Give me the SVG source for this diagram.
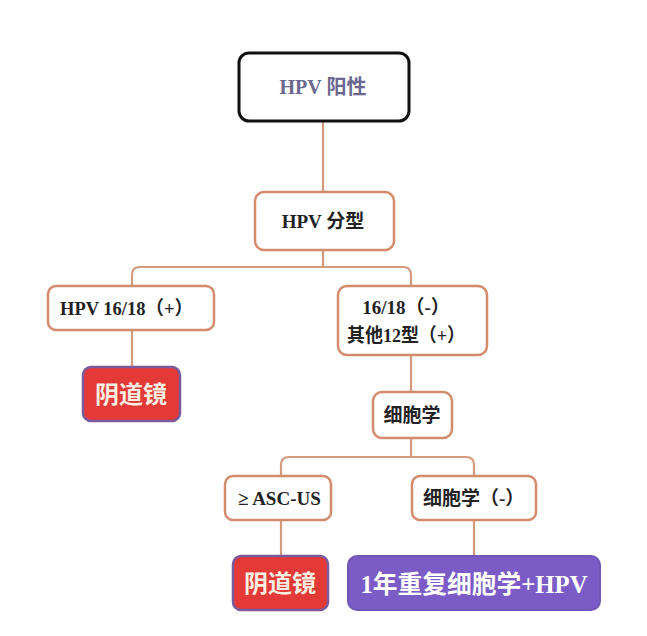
<svg xmlns="http://www.w3.org/2000/svg" width="647" height="636" viewBox="0 0 647 636">
<style>
.box{fill:#ffffff;stroke:#d38b6c;stroke-width:2.5}
.t{font-family:"Liberation Serif","Noto Sans CJK SC",serif;font-weight:bold;font-size:19px;fill:#222222}
.red{fill:#e43a37;stroke:#7a5a9c;stroke-width:2.5}
.pur{fill:#7b5bc6;stroke:#7157b4;stroke-width:2}
.wt{font-family:"Liberation Serif","Noto Sans CJK SC",serif;font-weight:bold;font-size:25px;fill:#fbeee2}
.ln{fill:none;stroke:#d49a7c;stroke-width:2.2}
</style>
<rect width="647" height="636" fill="#ffffff"/>
<g id="connectors">
<path class="ln" d="M323 122V192"/>
<path class="ln" d="M323 250V267"/>
<path class="ln" d="M132 286V275Q132 267 140 267H403Q411 267 411 275V286"/>
<path class="ln" d="M132 330V367"/>
<path class="ln" d="M411 355V392"/>
<path class="ln" d="M411 438V457"/>
<path class="ln" d="M281 476V465Q281 457 289 457H466Q474 457 474 465V476"/>
<path class="ln" d="M281 520V556"/>
<path class="ln" d="M474 520V556"/>
</g>
<g id="n1">
<rect x="239" y="53" width="170" height="68" rx="10" fill="#ffffff" stroke="#111111" stroke-width="3"/>
<text class="t" x="323" y="94" text-anchor="middle" style="fill:#6a6790;font-size:20px">HPV 阳性</text>
</g>
<g id="n2">
<rect class="box" x="255" y="192" width="139" height="58" rx="9"/>
<text class="t" x="323" y="228" text-anchor="middle">HPV 分型</text>
</g>
<g id="n3">
<rect class="box" x="48" y="286" width="166" height="44" rx="8"/>
<text class="t" x="60" y="315" textLength="133" lengthAdjust="spacingAndGlyphs">HPV 16/18（+）</text>
</g>
<g id="n4">
<rect class="box" x="338" y="286" width="149" height="69" rx="9"/>
<text class="t" x="406" y="314" text-anchor="middle">16/18（-）</text>
<text class="t" x="406" y="342" text-anchor="middle" textLength="118" lengthAdjust="spacingAndGlyphs">其他12型（+）</text>
</g>
<g id="n5">
<rect class="red" x="83" y="367" width="97" height="54" rx="8"/>
<text class="wt" x="131" y="403" text-anchor="middle" style="font-size:24px">阴道镜</text>
</g>
<g id="n6">
<rect class="box" x="373" y="392" width="79" height="46" rx="9"/>
<text class="t" x="412" y="422" text-anchor="middle">细胞学</text>
</g>
<g id="n7">
<rect class="box" x="225" y="476" width="106" height="44" rx="8"/>
<text class="t" x="238" y="505">≥ ASC-US</text>
</g>
<g id="n8">
<rect class="box" x="412" y="476" width="124" height="44" rx="8"/>
<text class="t" x="423" y="505">细胞学（-）</text>
</g>
<g id="n9">
<rect class="red" x="233" y="556" width="95" height="54" rx="8"/>
<text class="wt" x="280" y="592" text-anchor="middle" style="font-size:24px">阴道镜</text>
</g>
<g id="n10">
<rect class="pur" x="348" y="556" width="252" height="54" rx="9"/>
<text class="wt" x="474" y="593" text-anchor="middle" style="fill:#ffffff" textLength="227" lengthAdjust="spacingAndGlyphs">1年重复细胞学+HPV</text>
</g>
</svg>
